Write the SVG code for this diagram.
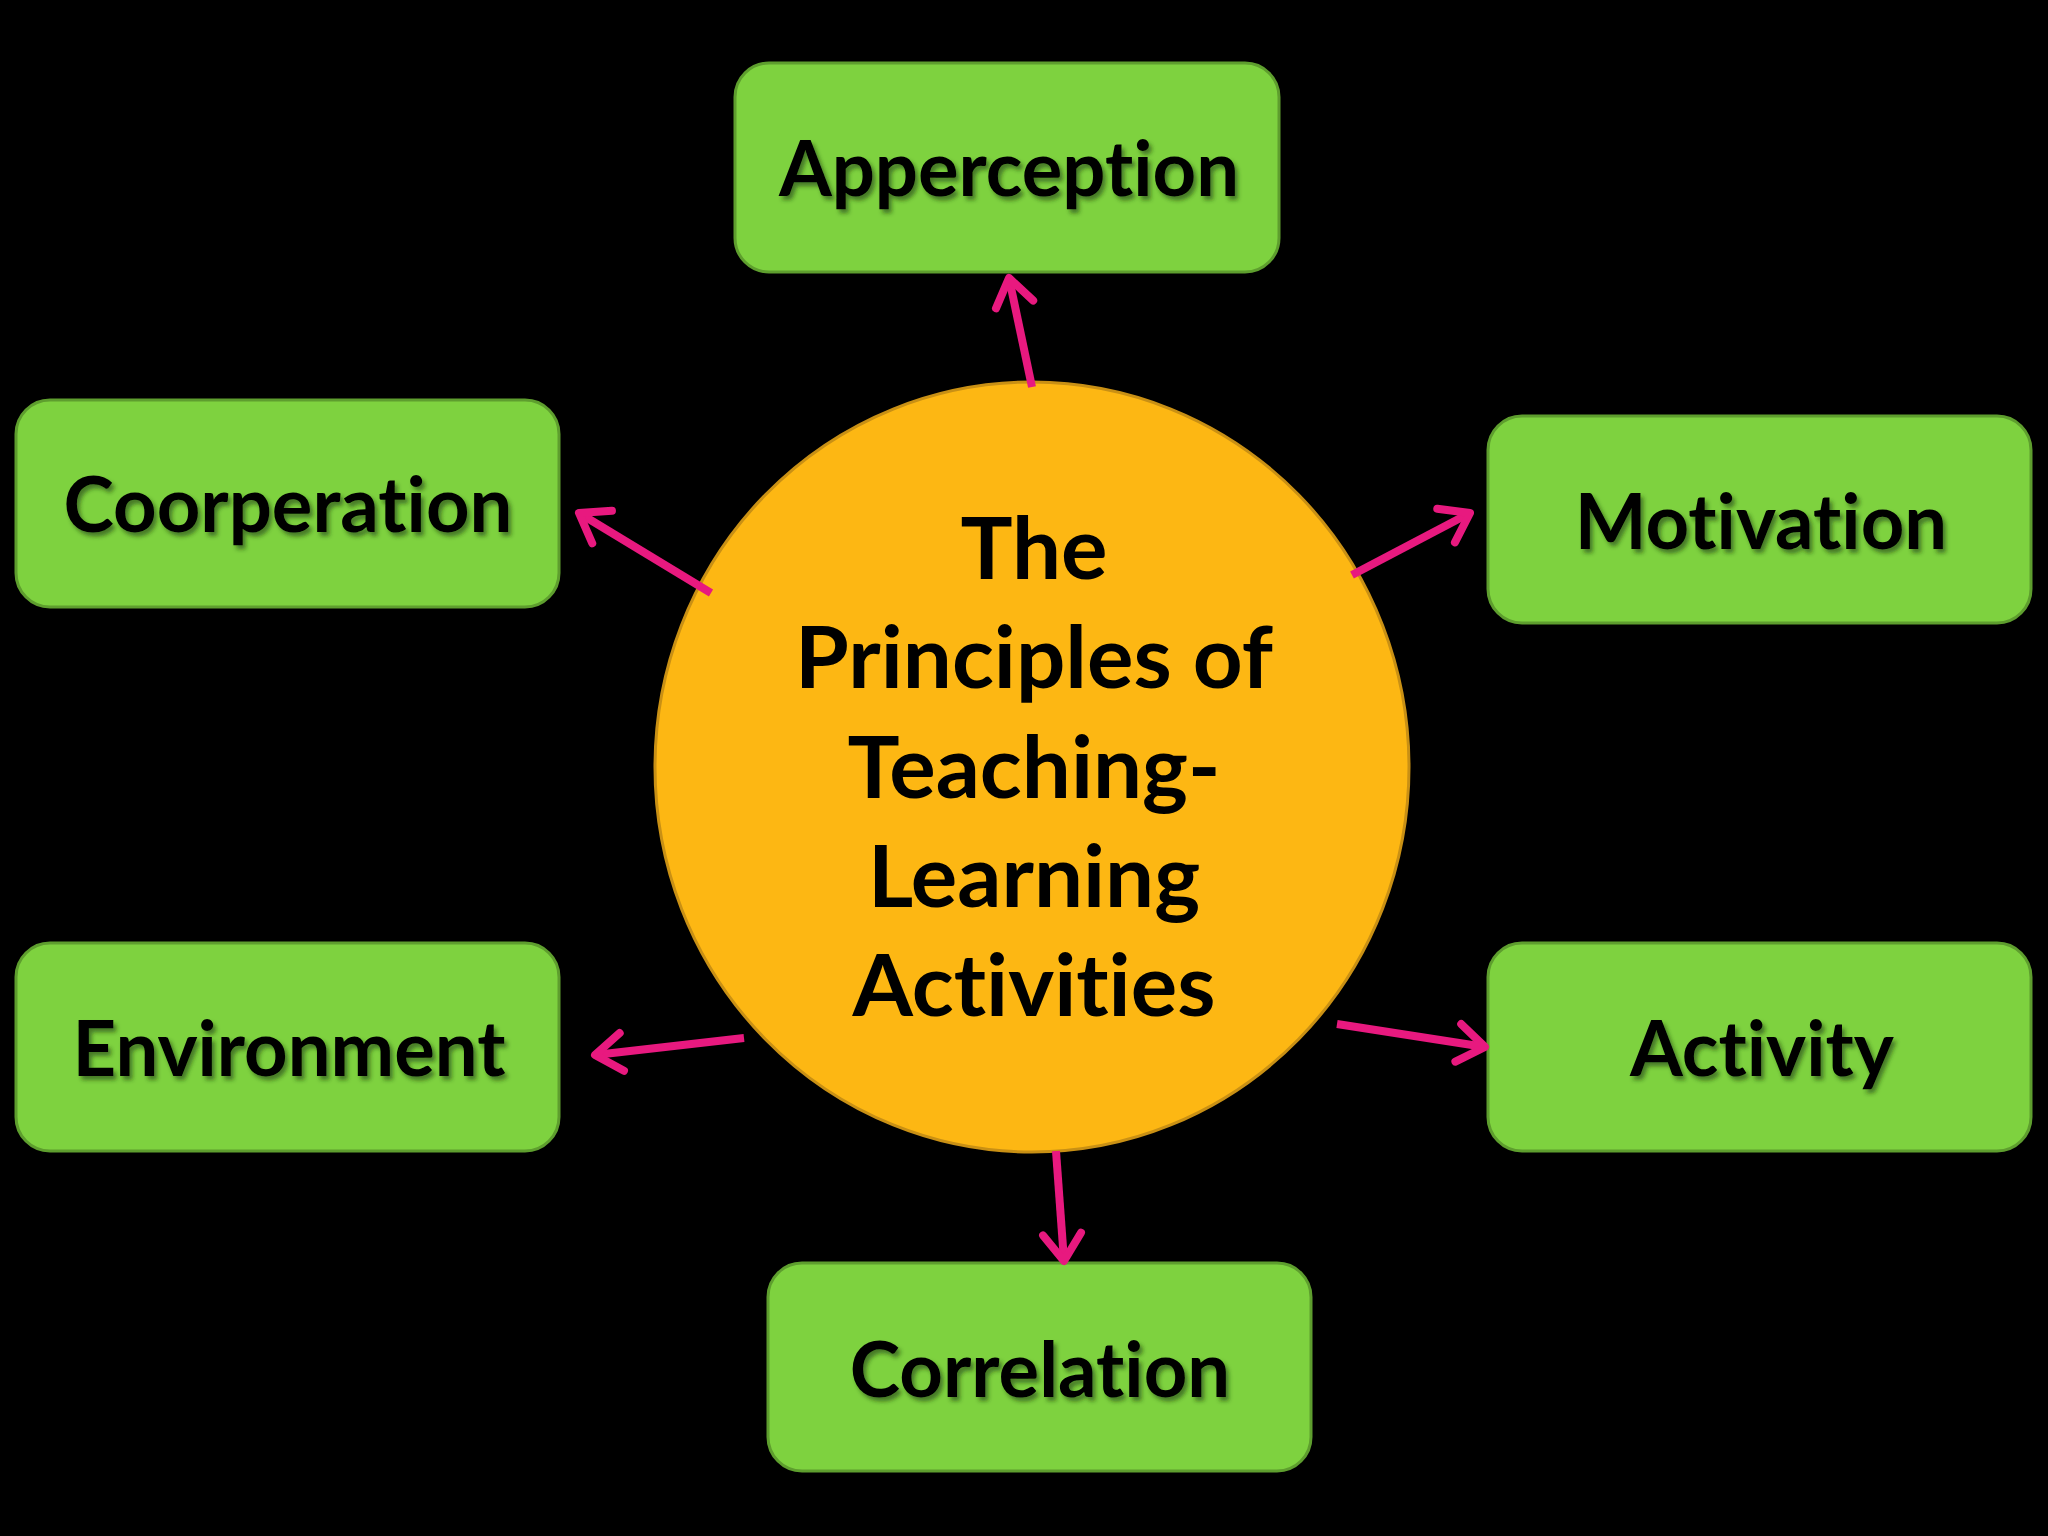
<svg xmlns="http://www.w3.org/2000/svg" width="2048" height="1536" viewBox="0 0 2048 1536">
<defs>
<style>
.box{fill:#7ED23F;stroke:#5E9E2E;stroke-width:3}
.lbl{font-family:Lato,"Open Sans","Liberation Sans",sans-serif;font-weight:bold;font-size:76px;fill:#000;text-anchor:middle;filter:url(#sh);font-variant-ligatures:none}
.ctr{font-family:Lato,"Open Sans","Liberation Sans",sans-serif;font-weight:bold;font-size:87px;fill:#000;text-anchor:middle;font-variant-ligatures:none}
.arr{stroke:#E8197F;stroke-width:8;fill:none;stroke-linecap:butt;marker-end:url(#ah)}
</style>
<filter id="sh" x="-10%" y="-20%" width="120%" height="140%">
<feDropShadow dx="3" dy="4" stdDeviation="2" flood-color="#1f3a0a" flood-opacity="0.6"/>
</filter>
<marker id="ah" markerUnits="userSpaceOnUse" viewBox="-40 -30 50 60" markerWidth="50" markerHeight="60" refX="0" refY="0" orient="auto">
<path d="M-27,-19 L0,0 L-27,19" fill="none" stroke="#E8197F" stroke-width="8" stroke-linecap="round" stroke-linejoin="round"/>
</marker>
</defs>
<rect width="2048" height="1536" fill="#000"/>
<g id="center">
<ellipse cx="1032" cy="767" rx="377" ry="385" fill="#FDB713" stroke="#C99014" stroke-width="3"/>
<text class="ctr" x="1034" y="579">The</text>
<text class="ctr" x="1034" y="688">Principles of</text>
<text class="ctr" x="1034" y="798">Teaching-</text>
<text class="ctr" x="1034" y="907">Learning</text>
<text class="ctr" x="1034" y="1016">Activities</text>
</g>
<g id="apperception"><rect class="box" x="735" y="63" width="544" height="209" rx="34"/><text class="lbl" x="1009" y="196">Apperception</text></g>
<g id="coorperation"><rect class="box" x="16" y="400" width="543" height="207" rx="34"/><text class="lbl" x="288" y="532">Coorperation</text></g>
<g id="motivation"><rect class="box" x="1488" y="416" width="543" height="207" rx="34"/><text class="lbl" x="1761" y="549">Motivation</text></g>
<g id="environment"><rect class="box" x="16" y="943" width="543" height="208" rx="34"/><text class="lbl" x="289" y="1076">Environment</text></g>
<g id="activity"><rect class="box" x="1488" y="943" width="543" height="208" rx="34"/><text class="lbl" x="1762" y="1076">Activity</text></g>
<g id="correlation"><rect class="box" x="768" y="1263" width="543" height="208" rx="34"/><text class="lbl" x="1040" y="1397">Correlation</text></g>
<g id="connectors">
<line class="arr" x1="1032" y1="387" x2="1009" y2="278"/>
<line class="arr" x1="711" y1="593" x2="579" y2="513"/>
<line class="arr" x1="1352" y1="575" x2="1470" y2="513"/>
<line class="arr" x1="744" y1="1038" x2="595" y2="1055"/>
<line class="arr" x1="1337" y1="1024" x2="1485" y2="1047"/>
<line class="arr" x1="1056" y1="1151" x2="1064" y2="1261"/>
</g>
</svg>
